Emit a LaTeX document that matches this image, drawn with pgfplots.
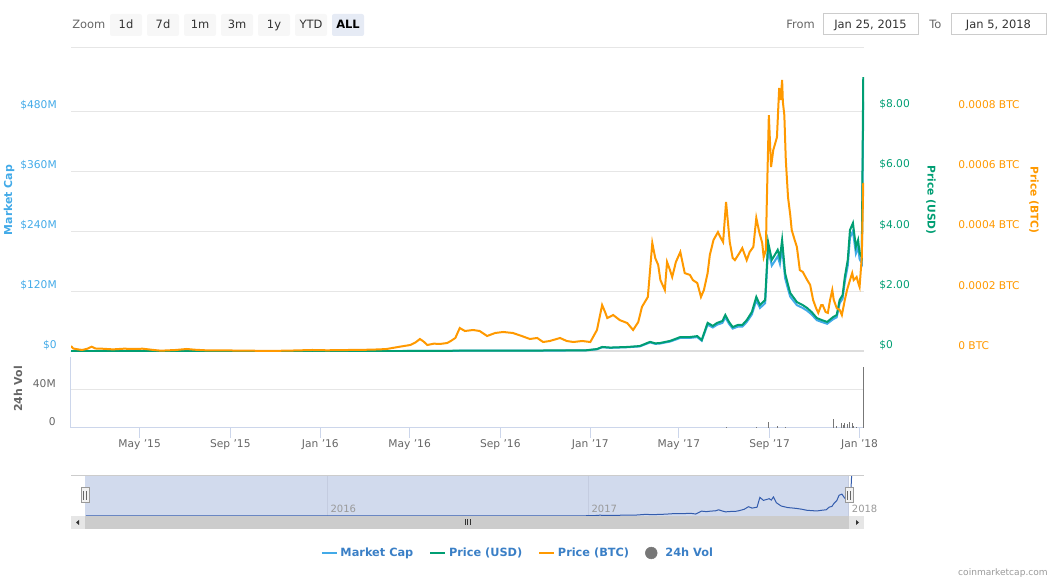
\documentclass[border=0pt]{standalone}
\usepackage{pgfplots}
\pgfplotsset{compat=1.18}
\usepackage{pgfplotstable}
\usepackage{fontspec}
\setmainfont{DejaVu Sans}
\definecolor{mcblue}{HTML}{42AAE8}
\definecolor{usdgreen}{HTML}{009E73}
\definecolor{btcorange}{HTML}{FF9900}
\definecolor{volgray}{HTML}{777777}
\definecolor{gridgray}{HTML}{E6E6E6}
\definecolor{zerogray}{HTML}{DDDDDD}
\definecolor{axisblue}{HTML}{CCD6EB}
\definecolor{txtgray}{HTML}{666666}
\definecolor{lightgray9}{HTML}{999999}
\definecolor{legblue}{HTML}{3A7FC6}
\definecolor{navblue}{HTML}{335CAD}
\definecolor{navmask}{HTML}{D1DAED}
\definecolor{navgrid}{HTML}{C4CCE0}
\definecolor{btnfill}{HTML}{F7F7F7}
\definecolor{btnsel}{HTML}{E6EBF5}
\definecolor{dark3}{HTML}{333333}
\definecolor{boxgray}{HTML}{CCCCCC}
\definecolor{scrolltrack}{HTML}{F2F2F2}
\definecolor{scrollbtn}{HTML}{E6E6E6}
\newcommand{\tk}{\fontsize{8}{9.6}\selectfont}

\pgfplotstableread{
day mc
3 0.9
30 0.8
100 0.6
200 0.5
341 0.5
460 1.0
530 1.5
600 1.7
700 2.1
716 4.5
723 8.5
734 7.3
757 8.5
774 10.2
788 18.1
795 15.3
801 15.8
815 19.8
829 27.1
842 27.1
852 28.8
858 21.5
866 53.7
873 48.0
879 53.7
886 57.1
890 68.4
895 55.4
900 45.8
907 49.7
913 49.7
919 58.8
926 74.0
932 102.3
937 87.0
944 96.6
948 205.1
953 171.8
957 180.8
961 190.4
964 175.2
967 209.1
971 146.9
975 124.9
978 109.6
987 92.7
995 87.0
1001 81.4
1007 74.0
1014 62.7
1021 58.8
1028 55.4
1036 64.4
1041 68.4
1045 96.6
1049 105.7
1052 139.6
1056 171.8
1059 227.7
1063 240.7
1067 196.1
1070 209.1
1072 184.8
1075 176.8
1077 500.0
}\mctable

\pgfplotstableread{
day usd
3 0.015
30 0.013
100 0.010
200 0.008
341 0.008
460 0.017
530 0.026
600 0.030
700 0.037
716 0.08
723 0.15
734 0.13
757 0.15
774 0.18
788 0.32
795 0.27
801 0.28
815 0.35
829 0.48
842 0.48
852 0.51
858 0.38
866 0.95
873 0.85
879 0.95
886 1.01
890 1.21
895 0.98
900 0.81
907 0.88
913 0.88
919 1.04
926 1.31
932 1.81
937 1.54
944 1.71
948 3.63
953 3.04
957 3.20
961 3.37
964 3.10
967 3.70
971 2.60
975 2.21
978 1.94
987 1.64
995 1.54
1001 1.44
1007 1.31
1014 1.11
1021 1.04
1028 0.98
1036 1.14
1041 1.21
1045 1.71
1049 1.87
1052 2.47
1056 3.04
1059 4.03
1063 4.26
1067 3.47
1070 3.70
1072 3.27
1075 3.13
1077 9.10
}\usdtable

\pgfplotstableread{
day btc
3 0.0000182
6 0.0000100
10 0.0000080
18 0.0000050
25 0.0000090
31 0.0000159
36 0.0000100
45 0.0000093
60 0.0000070
75 0.0000093
90 0.0000083
100 0.0000093
115 0.0000050
125 0.0000027
145 0.0000050
160 0.0000083
170 0.0000060
185 0.0000040
210 0.0000035
240 0.0000030
270 0.0000017
300 0.0000030
330 0.0000050
350 0.0000040
380 0.0000050
410 0.0000060
430 0.0000080
449 0.0000160
463 0.0000216
470 0.0000300
476 0.0000415
481 0.0000330
486 0.0000216
495 0.0000260
503 0.0000249
513 0.0000282
518 0.0000350
524 0.0000448
530 0.0000779
537 0.0000680
548 0.0000713
557 0.0000680
567 0.0000514
578 0.0000614
589 0.0000647
602 0.0000614
614 0.0000514
625 0.0000415
635 0.0000448
643 0.0000315
652 0.0000348
666 0.0000448
675 0.0000348
684 0.0000315
696 0.0000348
707 0.0000315
716 0.0000713
723 0.000154
727 0.000131
730 0.000111
738 0.000121
747 0.000104
757 0.0000945
765 0.0000713
772 0.0000978
777 0.000148
785 0.000181
791 0.000360
795 0.000310
799 0.000287
802 0.000237
808 0.000204
811 0.000297
815 0.000270
818 0.000247
823 0.000297
829 0.000330
835 0.000260
842 0.000254
846 0.000237
852 0.000227
857 0.000181
861 0.000204
866 0.000260
869 0.000320
874 0.000370
880 0.000396
884 0.000376
887 0.000363
891 0.000496
896 0.000363
900 0.000310
903 0.000303
910 0.000330
913 0.000343
919 0.000303
923 0.000330
928 0.000347
932 0.000443
936 0.000396
940 0.000360
942 0.000313
945 0.000337
946 0.000469
949 0.000784
952 0.000612
955 0.000668
957 0.000685
960 0.000711
963 0.000874
965 0.000834
967 0.000901
968 0.000828
970 0.000784
972 0.000635
975 0.000512
978 0.000453
980 0.000403
984 0.000370
987 0.000347
991 0.000270
995 0.000264
1001 0.000237
1005 0.000221
1009 0.000171
1013 0.000144
1016 0.000128
1020 0.000154
1022 0.000154
1026 0.000131
1029 0.000128
1032 0.000171
1035 0.000204
1037 0.000171
1041 0.000144
1045 0.000138
1048 0.000121
1052 0.000171
1055 0.000204
1059 0.000237
1062 0.000260
1064 0.000237
1068 0.000247
1071 0.000221
1072 0.000214
1075 0.000313
1077 0.000559
}\btctable

\pgfplotstableread{
day vol
891 1.0
932 1.0
948 6.5
949 2.0
961 2.0
972 1.5
1036 9.5
1037 6.0
1041 2.0
1047 5.0
1050 3.5
1052 5.0
1055 4.0
1058 6.5
1062 5.0
1064 2.0
1068 1.5
1077 64.0
}\voltable

\pgfplotsset{
  panel/.style={scale only axis, width=594.75pt, xmin=3, xmax=1078,
    anchor=south west, scaled y ticks=false},
  linelegend/.style={legend image code/.code={\draw[##1] (0pt,0pt) -- (11.25pt,0pt);}},
  dotlegend/.style={legend image code/.code={\fill[##1] (4.5pt,0pt) circle (4.4pt); \path[draw=none,fill=none] (13pt,0pt) circle (0.1pt);}},
}

\begin{document}
\begin{tikzpicture}
\begin{scope}[x=0.75pt,y=-0.75pt]
\path[use as bounding box] (0,0) rectangle (1054,580);
% toolbar
\node[anchor=base west, inner sep=0pt, font=\fontsize{8.6}{10}\selectfont, text=txtgray] at (72,29) {Zoom};
\foreach \xa/\xb/\t in {110/142/1d,147/179/7d,184/216/1m,221/253/3m,258/290/1y,295/327/YTD}{
  \fill[btnfill, rounded corners=1.5pt] (\xa,14) rectangle (\xb,36);
  \node[anchor=base, inner sep=0pt, font=\fontsize{8.6}{10}\selectfont, text=dark3] at ({(\xa+\xb)/2},29) {\t};
}
\fill[btnsel, rounded corners=1.5pt] (332,14) rectangle (364,36);
\node[anchor=base, inner sep=0pt, font=\bfseries\fontsize{8.6}{10}\selectfont, text=black] at (348,29) {ALL};
\node[anchor=base west, inner sep=0pt, font=\fontsize{8.6}{10}\selectfont, text=txtgray] at (786,29) {From};
\draw[boxgray, line width=0.75pt, fill=white] (823,14) rectangle (918,35);
\node[anchor=base, inner sep=0pt, font=\fontsize{8.6}{10}\selectfont, text=dark3] at (870.5,29) {Jan 25, 2015};
\node[anchor=base west, inner sep=0pt, font=\fontsize{8.6}{10}\selectfont, text=txtgray] at (929,29) {To};
\draw[boxgray, line width=0.75pt, fill=white] (951,14) rectangle (1046,35);
\node[anchor=base, inner sep=0pt, font=\fontsize{8.6}{10}\selectfont, text=dark3] at (998.5,29) {Jan 5, 2018};
\draw[gridgray, line width=0.75pt] (71,48) -- (864,48);
% axis titles
\node[rotate=90, inner sep=0pt, font=\bfseries\fontsize{8.2}{10}\selectfont, text=mcblue] at (9,200) {Market Cap};
\node[rotate=-90, inner sep=0pt, font=\bfseries\fontsize{8}{10}\selectfont, text=usdgreen] at (931,200) {Price (USD)};
\node[rotate=-90, inner sep=0pt, font=\bfseries\fontsize{8}{10}\selectfont, text=btcorange] at (1034,200) {Price (BTC)};
\node[rotate=90, inner sep=0pt, font=\bfseries\fontsize{8.2}{10}\selectfont, text=txtgray] at (18,389) {24h Vol};
% navigator mask
\fill[navmask] (85,476) rectangle (849,516);
\end{scope}

% Market cap axis (left)
\begin{axis}[panel, at={(53.25pt,-263.625pt)}, height=217.125pt,
  ymin=0, ymax=579,
  axis line style={draw=none}, xtick=\empty,
  ytick={0,120,240,360,480},
  yticklabels={\$0,\$120M,\$240M,\$360M,\$480M},
  ytick style={draw=none},
  ymajorgrids, grid style={gridgray, line width=0.75pt},
  extra y ticks={0}, extra y tick labels={},
  extra y tick style={grid style={zerogray, line width=1.5pt}},
  yticklabel style={font=\tk, text=mcblue, anchor=east, inner sep=0pt, xshift=-10.5pt, yshift=4.5pt},
]
\addplot[mcblue, line width=1.5pt] table[x=day,y=mc]{\mctable};
\end{axis}

% USD axis
\begin{axis}[panel, at={(53.25pt,-263.625pt)}, height=217.125pt,
  ymin=0, ymax=9.603,
  axis x line=none, axis y line*=right, y axis line style={draw=none},
  ytick style={draw=none},
  ytick={0,2,4,6,8},
  yticklabels={\$0,\$2.00,\$4.00,\$6.00,\$8.00},
  yticklabel style={font=\tk, text=usdgreen, anchor=west, inner sep=0pt, xshift=11.25pt, yshift=4.5pt},
]
\addplot[usdgreen, line width=1.5pt] table[x=day,y=usd]{\usdtable};
\end{axis}

% BTC axis
\begin{axis}[panel, at={(53.25pt,-263.625pt)}, height=217.125pt,
  ymin=0, ymax=0.0009603,
  axis x line=none, axis y line*=right, y axis line style={draw=none},
  ytick style={draw=none},
  ytick={0,0.0002,0.0004,0.0006,0.0008},
  yticklabels={0 BTC,0.0002 BTC,0.0004 BTC,0.0006 BTC,0.0008 BTC},
  yticklabel style={font=\tk, text=btcorange, anchor=west, inner sep=0pt, xshift=70.5pt, yshift=4.5pt},
]
\addplot[btcorange, line width=1.5pt] table[x=day,y=btc]{\btctable};
\end{axis}

% Volume axis
\begin{axis}[panel, at={(53.25pt,-321pt)}, height=53.25pt,
  ymin=0, ymax=74.7,
  axis x line*=bottom, axis y line*=left,
  axis line style={axisblue, line width=0.75pt},
  xtick={96,219,341,462,585,707,827,950,1072},
  xticklabels={May '15,Sep '15,Jan '16,May '16,Sep '16,Jan '17,May '17,Sep '17,Jan '18},
  tick align=outside, major tick length=7.5pt,
  xtick style={axisblue, line width=0.75pt},
  ytick={0,40}, yticklabels={0,40M}, ytick style={draw=none},
  ymajorgrids, grid style={gridgray, line width=0.75pt},
  xticklabel style={font=\tk, text=txtgray, inner sep=0pt, yshift=-1pt},
  yticklabel style={font=\tk, text=txtgray, anchor=east, inner sep=0pt, xshift=-3.75pt, yshift=4.5pt},
]
\addplot[volgray, ycomb, line width=0.75pt] table[x=day,y=vol]{\voltable};
\end{axis}

% Navigator axis
\begin{axis}[scale only axis, width=594.75pt, height=30pt, at={(53.25pt,-387pt)}, anchor=south west,
  xmin=-18, xmax=1094, ymin=0, ymax=440,
  axis line style={draw=none}, ytick=\empty,
  xtick={341,707,1072}, xticklabels={2016,2017,2018},
  tick style={draw=none},
  xmajorgrids, grid style={navgrid, line width=0.75pt},
  xticklabel style={font=\fontsize{7.5}{9}\selectfont, text=lightgray9, anchor=south west, inner sep=0pt, xshift=2.5pt, yshift=2.5pt},
  legend columns=-1,
  legend style={at={(0.564,-0.925)}, anchor=center, draw=none, fill=none,
    font=\color{legblue}\bfseries\fontsize{8.5}{10}\selectfont,
    /tikz/every even column/.append style={column sep=10pt}},
]
\addplot[navblue, line width=0.75pt, forget plot] table[x=day,y=mc]{\mctable};
\addlegendimage{mcblue, line width=1.5pt, linelegend}
\addlegendentry{Market Cap}
\addlegendimage{usdgreen, line width=1.5pt, linelegend}
\addlegendentry{Price (USD)}
\addlegendimage{btcorange, line width=1.5pt, linelegend}
\addlegendentry{Price (BTC)}
\addlegendimage{volgray, dotlegend}
\addlegendentry{24h Vol}
\end{axis}

\begin{scope}[x=0.75pt,y=-0.75pt]
% navigator outline and handles
\draw[boxgray, line width=0.75pt] (71,476) -- (864,476);
\foreach \hx in {85,849}{
  \filldraw[fill=scrolltrack, draw=lightgray9, line width=0.75pt] (\hx-4,488) rectangle (\hx+4,503);
  \draw[txtgray, line width=0.6pt] (\hx-1.3,491) -- (\hx-1.3,500) (\hx+1.3,491) -- (\hx+1.3,500);
}
% scrollbar
\fill[scrolltrack] (71,516) rectangle (864,529);
\fill[boxgray] (85,516) rectangle (849,529);
\fill[scrollbtn] (71,516) rectangle (85,529);
\fill[scrollbtn] (849,516) rectangle (864,529);
\fill[dark3] (76,522.5) -- (79,520) -- (79,525) -- cycle;
\fill[dark3] (859,522.5) -- (856,520) -- (856,525) -- cycle;
\draw[dark3, line width=0.6pt] (465,519.5) -- (465,525.5) (467.5,519.5) -- (467.5,525.5) (470,519.5) -- (470,525.5);
% credits
\node[anchor=base east, inner sep=0pt, font=\fontsize{6.8}{8}\selectfont, text=lightgray9] at (1048,576) {coinmarketcap.com};
\end{scope}
\end{tikzpicture}
\end{document}
